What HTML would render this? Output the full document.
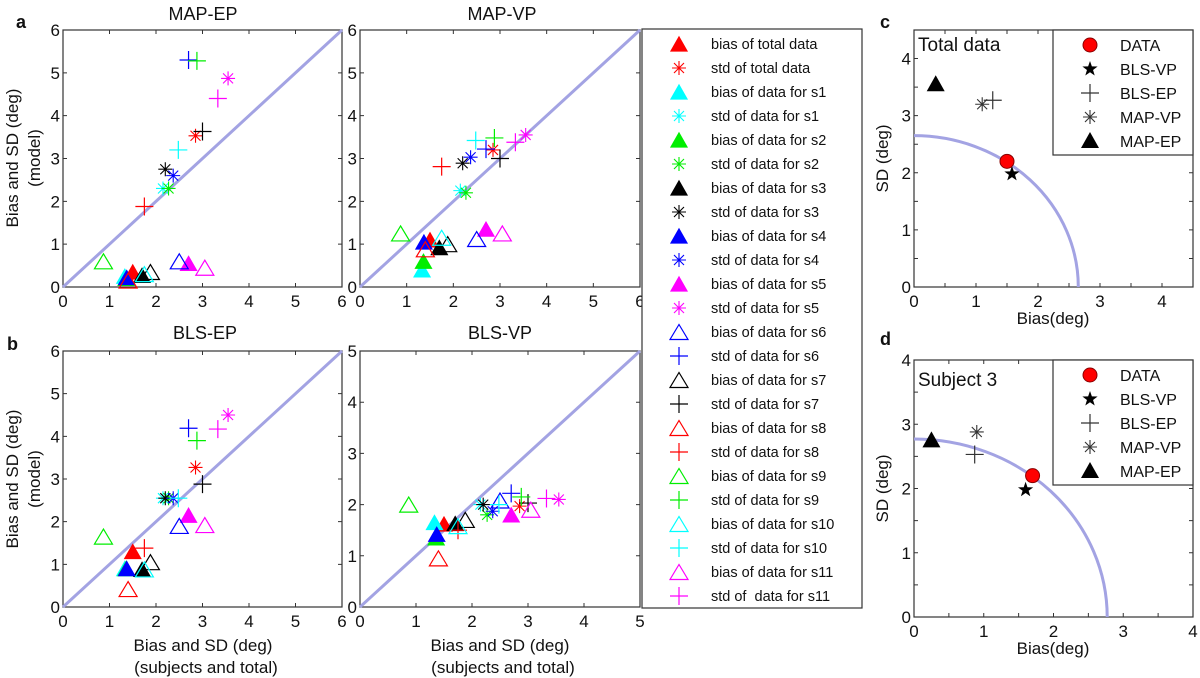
<!DOCTYPE html>
<html><head><meta charset="utf-8"><style>
body{margin:0;background:#fff}
svg{display:block;font-family:"Liberation Sans",Arial,sans-serif}
text{fill:#111}
</style></head><body>
<svg id="fig" width="1200" height="678" viewBox="0 0 1200 678" xmlns="http://www.w3.org/2000/svg"></svg>
<script>
// shared data x (observed): order total, s1..s11
const biasX = [1.5,1.33,1.36,1.7,1.37,2.7,2.5,1.88,1.4,0.87,1.75,3.05];
const stdX = [2.85,2.15,2.27,2.2,2.37,3.55,2.7,3.0,1.75,2.88,2.48,3.33];
const mapEpBias = [0.35,0.25,0.2,0.27,0.22,0.55,0.6,0.35,0.15,0.6,0.3,0.45];
const mapEpStd = [3.53,2.3,2.3,2.75,2.6,4.87,5.3,3.63,1.88,5.28,3.2,4.4];
const mapVpBias = [1.1,0.4,0.6,0.92,1.05,1.35,1.12,1.0,0.88,1.25,1.15,1.25];
const mapVpStd = [3.2,2.25,2.2,2.89,3.03,3.55,3.22,3.0,2.81,3.48,3.42,3.38];
const blsEpBias = [1.3,0.9,0.9,0.88,0.9,2.15,1.9,1.05,0.42,1.65,0.88,1.92];
const blsEpStd = [3.27,2.55,2.55,2.55,2.55,4.5,4.19,2.88,1.38,3.9,2.55,4.17];
const blsVpBias = [1.62,1.65,1.35,1.63,1.42,1.8,2.08,1.7,0.95,2.0,1.58,1.9];
const blsVpStd = [1.97,2.0,1.8,2.0,1.87,2.1,2.22,2.03,1.5,2.15,2.0,2.12];
const seriesNames = ['total','s1','s2','s3','s4','s5','s6','s7','s8','s9','s10','s11'];
const colors = ['#ff0000','#00ffff','#00ee00','#000000','#0000ff','#ff00ff','#0000ff','#000000','#ff0000','#00ee00','#00ffff','#ff00ff'];
const ticks6 = [0,1,2,3,4,5,6];
const ticks5 = [0,1,2,3,4,5];
// panels c & d
const modelNames = ['DATA','BLS-VP','BLS-EP','MAP-VP','MAP-EP'];
const totalX = [1.5,1.58,1.27,1.1,0.35];
const totalY = [2.2,1.98,3.27,3.2,3.55];
const subj3X = [1.7,1.6,0.87,0.9,0.25];
const subj3Y = [2.2,1.98,2.53,2.88,2.75];
const totalRadius = 2.65;
const subj3Radius = 2.77;
const ticksC = [0,1,2,3,4];

const NS='http://www.w3.org/2000/svg';
const svg=document.getElementById('fig');
function mk(tag,attrs,parent){const e=document.createElementNS(NS,tag);for(const k in attrs)e.setAttribute(k,attrs[k]);(parent||svg).appendChild(e);return e;}
function txt(s,x,y,size,anchor,parent,extra){const t=mk('text',Object.assign({x:x,y:y,'font-size':size,'text-anchor':anchor||'start'},extra||{}),parent);t.textContent=s;return t;}

function marker(g,type,cx,cy,color){
  let el;
  if(type==='tri'||type==='otri'){
    const w=type==='tri'?8:9,h=type==='tri'?14:15;
    el=mk('polygon',{points:`${cx-w},${cy+h/2} ${cx+w},${cy+h/2} ${cx},${cy-h/2}`,fill:type==='tri'?color:'none',stroke:color,'stroke-width':1.2},g);
  } else if(type==='ast'){
    el=mk('path',{d:`M${cx-7},${cy}h14M${cx},${cy-7}v14M${cx-5},${cy-5}l10,10M${cx-5},${cy+5}l10,-10`,stroke:color,'stroke-width':1.1,fill:'none'},g);
  } else if(type==='plus'){
    el=mk('path',{d:`M${cx-9},${cy}h18M${cx},${cy-9}v18`,stroke:color,'stroke-width':1.2,fill:'none'},g);
  } else if(type==='circ'){
    el=mk('circle',{cx:cx,cy:cy,r:7,fill:'#ff0000',stroke:'#800','stroke-width':1},g);
  } else if(type==='star'){
    let p='';for(let i=0;i<10;i++){const r=i%2?3.2:8;const a=-Math.PI/2+i*Math.PI/5;p+=`${cx+r*Math.cos(a)},${cy+r*Math.sin(a)} `;}
    el=mk('polygon',{points:p,fill:'#000'},g);
  } else if(type==='bigtri'){
    el=mk('polygon',{points:`${cx-9},${cy+7} ${cx+9},${cy+7} ${cx},${cy-9}`,fill:'#000'},g);
  }
  return el;
}

function axes(name,x0,y0,x1,y1,xmax,ymax,xt,yt,minor){
  const g=mk('g',{});
  
  
  const sx=v=>x0+(x1-x0)*v/xmax, sy=v=>y1-(y1-y0)*v/ymax;
  mk('rect',{x:x0,y:y0,width:x1-x0,height:y1-y0,fill:'none',stroke:'#333','stroke-width':1.2},g);
  const xs=[...xt]; const ys=[...yt];
  if(minor){for(let v=0.5;v<xmax;v+=1)xs.push(v);for(let v=0.5;v<ymax;v+=1)ys.push(v);}
  xs.forEach(v=>{const X=sx(v);mk('path',{d:`M${X},${y1}v-4M${X},${y0}v4`,stroke:'#333'},g);});
  ys.forEach(v=>{const Y=sy(v);mk('path',{d:`M${x0},${Y}h4M${x1},${Y}h-4`,stroke:'#333'},g);});
  const xl=mk('g',{},g);
  
  
  xt.forEach(v=>txt(String(v),sx(v),y1+20,17,'middle',xl));
  const yl=mk('g',{},g);
  
  
  yt.forEach(v=>txt(String(v),x0-3,sy(v)+6,17,'end',yl));
  return {g,sx,sy};
}

function scatterPanel(name,x0,y0,x1,y1,max,ticks,biasY,stdY){
  const a=axes(name,x0,y0,x1,y1,max,max,ticks,ticks,false);
  const dl=mk('line',{x1:a.sx(0),y1:a.sy(0),x2:a.sx(max),y2:a.sy(max),stroke:'#a3a3e3','stroke-width':3},a.g);
  
  
  for(let i=0;i<12;i++){
    const t1=i<=5?'tri':'otri', t2=i<=5?'ast':'plus';
    const m1=marker(a.g,t1,a.sx(biasX[i]),a.sy(biasY[i]),colors[i]);
    
    
    const m2=marker(a.g,t2,a.sx(stdX[i]),a.sy(stdY[i]),colors[i]);
    
    
  }
}

scatterPanel('map-ep-panel',63,30,342,287,6,ticks6,mapEpBias,mapEpStd);
scatterPanel('map-vp-panel',360,30,640,287,6,ticks6,mapVpBias,mapVpStd);
scatterPanel('bls-ep-panel',63,351,342,607,6,ticks6,blsEpBias,blsEpStd);
scatterPanel('bls-vp-panel',360,351,640,607,5,ticks5,blsVpBias,blsVpStd);

// titles & labels
let t;
t=txt('MAP-EP',203,20,18,'middle');
t=txt('MAP-VP',502,20,18,'middle');
t=txt('BLS-EP',205,339,18,'middle');
t=txt('BLS-VP',500,339,18,'middle');
t=txt('a',16,28,18,'start',null,{'font-weight':'bold'});
t=txt('b',7,350,18,'start',null,{'font-weight':'bold'});
t=txt('c',880,28,18,'start',null,{'font-weight':'bold'});
t=txt('d',880,345,18,'start',null,{'font-weight':'bold'});
[[158],[479]].forEach((c,i)=>{
  let a=txt('Bias and SD (deg)',18,c[0],17,'middle',null,{transform:`rotate(-90 18 ${c[0]})`});
  
  let b=txt('(model)',40,c[0],17,'middle',null,{transform:`rotate(-90 40 ${c[0]})`});
  
});
[203,500].forEach(cx=>{
  let a=txt('Bias and SD (deg)',cx,651,17,'middle');
  let b=txt('(subjects and total)',cx+3,673,17,'middle');
});

// main legend
const lg=mk('g',{});


mk('rect',{x:642,y:29,width:220,height:579,fill:'#fff',stroke:'#333','stroke-width':1.2},lg);
for(let i=0;i<12;i++){
  for(let k=0;k<2;k++){
    const idx=i*2+k, y=44+idx*24;
    const type=k===0?(i<=5?'tri':'otri'):(i<=5?'ast':'plus');
    const m=marker(lg,type,679,y,colors[i]);
    
    
    let label=(k===0?'bias':'std')+(i===0?' of total data':(i===11&&k===1?' of  data for s11':' of data for '+seriesNames[i]));
    const e=txt(label,711,y+5,14.5,'start',lg,{'xml:space':'preserve'});
    e.style.whiteSpace='pre';
    
    
  }
}

function modelPanel(name,y0,y1,max,radius,xs,ys,label,ly,ticks){
  const a=axes(name,914,y0,1193,y1,max,max,ticks,ticks,true);
  const r=mk('path',{d:`M${a.sx(0)},${a.sy(radius)} A${a.sx(radius)-a.sx(0)},${a.sy(0)-a.sy(radius)} 0 0 1 ${a.sx(radius)},${a.sy(0)}`,fill:'none',stroke:'#a3a3e3','stroke-width':3},a.g);
  
  
  const types=['circ','star','plus','ast','bigtri'];
  for(let i=4;i>=0;i--){
    const m=marker(a.g,types[i],a.sx(xs[i]),a.sy(ys[i]),i===2||i===3?'#333':'#000');
    
    
  }
  const tl=txt(label,918,ly,19,'start',a.g);
  
  
  const l=mk('g',{},a.g);
  
  
  mk('rect',{x:1053,y:y0,width:140,height:125,fill:'#fff',stroke:'#333','stroke-width':1.2},l);
  for(let i=0;i<5;i++){
    const yy=y0+15+i*24;
    const m=marker(l,types[i],1090,yy,i===2||i===3?'#333':'#000');
    
    
    const e=txt(modelNames[i],1120,yy+6,16,'start',l);
    
    
  }
  const xt=txt('Bias(deg)',1053,y1+37,17,'middle');
  
  
  const cy=(y0+y1)/2;
  const yt=txt('SD (deg)',888,cy,17,'middle',null,{transform:`rotate(-90 888 ${cy})`});
  
  
}
modelPanel('total-data-panel',30,287,4.5,totalRadius,totalX,totalY,'Total data',51,ticksC);
modelPanel('subject-3-panel',360,617,4,subj3Radius,subj3X,subj3Y,'Subject 3',386,ticksC);
</script>
</body></html>
